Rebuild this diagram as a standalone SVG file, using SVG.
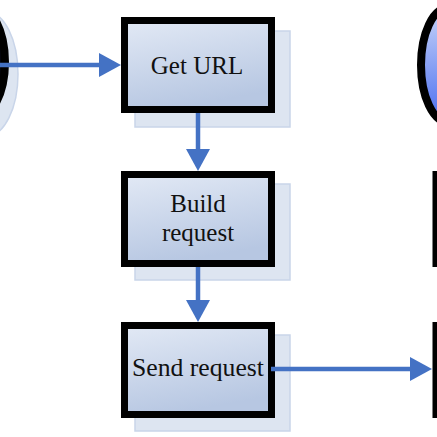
<svg xmlns="http://www.w3.org/2000/svg" width="437" height="437" viewBox="0 0 437 437">
<style>
.shadow{fill:#dde5f1;stroke:#c9d5e9;stroke-width:1.5}
.box{fill:url(#boxg);stroke:#000;stroke-width:7}
.oval{fill:url(#ovalg);stroke:#000;stroke-width:8}
.lbl{font-family:"Liberation Serif","Times New Roman",serif;font-size:25px;fill:#111;text-anchor:middle}
.conn{stroke:#4472c4;stroke-width:4.5;fill:none;marker-end:url(#ah)}
</style>
<defs>
<linearGradient id="boxg" x1="0" y1="0" x2="0.3" y2="1">
<stop offset="0" stop-color="#e2e9f5"/>
<stop offset="1" stop-color="#b7c7e2"/>
</linearGradient>
<linearGradient id="ovalg" x1="0" y1="0" x2="0" y2="1">
<stop offset="0" stop-color="#c8d4f8"/>
<stop offset="1" stop-color="#4a6ef0"/>
</linearGradient>
<marker id="ah" markerUnits="userSpaceOnUse" viewBox="0 0 22 24" refX="1" refY="12" markerWidth="22" markerHeight="24" orient="auto">
<path d="M0,0 L22,12 L0,24 Z" fill="#4472c4"/>
</marker>
</defs>
<g id="start">
<ellipse class="shadow" cx="-13" cy="74" rx="31" ry="62"/>
<ellipse class="oval" cx="-26" cy="62" rx="31" ry="58" style="fill:#05060f"/>
</g>
<g id="end">
<ellipse class="oval" cx="448" cy="65" rx="27" ry="57"/>
</g>
<g id="get-url">
<rect class="shadow" x="135" y="31" width="155" height="96"/>
<rect class="box" x="124.5" y="20.5" width="147" height="89"/>
<text class="lbl" x="197" y="74">Get URL</text>
</g>
<g id="build-request">
<rect class="shadow" x="135" y="184" width="155" height="96"/>
<rect class="box" x="124.5" y="174.5" width="147" height="89"/>
<text class="lbl" x="198" y="212">Build</text>
<text class="lbl" x="198" y="241">request</text>
</g>
<g id="send-request">
<rect class="shadow" x="135" y="335" width="155" height="96"/>
<rect class="box" x="124.5" y="325.5" width="147" height="89"/>
<text class="lbl" x="198" y="376" textLength="132" lengthAdjust="spacingAndGlyphs">Send request</text>
</g>
<g id="right-box-1">
<rect class="box" x="436" y="174.5" width="147" height="89"/>
</g>
<g id="right-box-2">
<rect class="box" x="436" y="325.5" width="147" height="89"/>
</g>
<g id="connectors">
<line class="conn" x1="0" y1="65" x2="100" y2="65"/>
<line class="conn" x1="198" y1="113" x2="198" y2="150"/>
<line class="conn" x1="198" y1="267" x2="198" y2="301"/>
<line class="conn" x1="271" y1="369" x2="411" y2="369"/>
</g>
</svg>
